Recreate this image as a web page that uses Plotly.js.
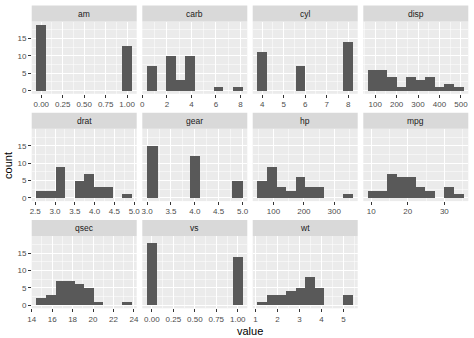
<!DOCTYPE html>
<html>
<head>
<meta charset="utf-8">
<script src="https://cdn.plot.ly/plotly-3.0.1.min.js"></script>
<style>html,body{margin:0;padding:0;background:#fff;}#chart{width:474px;height:338px;}</style>
</head>
<body>
<div id="chart"></div>
<script>
// Facet names (order of panels)
const facets = ['am','carb','cyl','disp','drat','gear','hp','mpg','qsec','vs','wt'];

// Histogram bin centres and counts
const am_mids = [0, 0.1111, 0.2222, 0.3333, 0.4444, 0.5556, 0.6667, 0.7778, 0.8889, 1.0];
const am_counts = [19, 0, 0, 0, 0, 0, 0, 0, 0, 13];
const carb_mids = [0.7778, 1.5556, 2.3333, 3.1111, 3.8889, 4.6667, 5.4444, 6.2222, 7.0, 7.7778];
const carb_counts = [7, 0, 10, 3, 10, 0, 0, 1, 0, 1];
const cyl_mids = [4.0, 4.4444, 4.8889, 5.3333, 5.7778, 6.2222, 6.6667, 7.1111, 7.5556, 8.0];
const cyl_counts = [11, 0, 0, 0, 7, 0, 0, 0, 0, 14];
const disp_mids = [89.09, 133.63, 178.18, 222.72, 267.27, 311.81, 356.36, 400.90, 445.44, 489.99];
const disp_counts = [6, 6, 4, 1, 4, 3, 4, 1, 2, 1];
const drat_mids = [2.6522, 2.8933, 3.1344, 3.3756, 3.6167, 3.8578, 4.0989, 4.3400, 4.5811, 4.8222];
const drat_counts = [2, 2, 9, 0, 5, 7, 3, 3, 0, 1];
const gear_mids = [3.1111, 3.3333, 3.5556, 3.7778, 4.0, 4.2222, 4.4444, 4.6667, 4.8889];
const gear_counts = [15, 0, 0, 0, 12, 0, 0, 0, 5];
const hp_mids = [62.89, 94.33, 125.78, 157.22, 188.67, 220.11, 251.56, 283.00, 314.44, 345.89];
const hp_counts = [5, 9, 3, 2, 6, 3, 3, 0, 0, 1];
const mpg_mids = [10.444, 13.056, 15.667, 18.278, 20.889, 23.500, 26.111, 28.722, 31.333, 33.944];
const mpg_counts = [2, 2, 7, 6, 6, 3, 2, 0, 3, 1];
const qsec_mids = [14.933, 15.867, 16.800, 17.733, 18.667, 19.600, 20.533, 21.467, 22.400, 23.333];
const qsec_counts = [2, 3, 7, 7, 6, 5, 1, 0, 0, 1];
const vs_mids = [0, 0.1111, 0.2222, 0.3333, 0.4444, 0.5556, 0.6667, 0.7778, 0.8889, 1.0];
const vs_counts = [18, 0, 0, 0, 0, 0, 0, 0, 0, 14];
const wt_mids = [1.3037, 1.7382, 2.1728, 2.6074, 3.0419, 3.4765, 3.9110, 4.3456, 4.7801, 5.2147];
const wt_counts = [1, 3, 3, 4, 5, 8, 5, 0, 0, 3];

// Tick values and labels
const am_ticks = [0, 0.25, 0.5, 0.75, 1];
const am_labels = ['0.00', '0.25', '0.50', '0.75', '1.00'];
const carb_ticks = [0, 2, 4, 6, 8];
const carb_labels = ['0', '2', '4', '6', '8'];
const cyl_ticks = [4, 5, 6, 7, 8];
const cyl_labels = ['4', '5', '6', '7', '8'];
const disp_ticks = [100, 200, 300, 400, 500];
const disp_labels = ['100', '200', '300', '400', '500'];
const drat_ticks = [2.5, 3, 3.5, 4, 4.5, 5];
const drat_labels = ['2.5', '3.0', '3.5', '4.0', '4.5', '5.0'];
const gear_ticks = [3, 3.5, 4, 4.5, 5];
const gear_labels = ['3.0', '3.5', '4.0', '4.5', '5.0'];
const hp_ticks = [100, 200, 300];
const hp_labels = ['100', '200', '300'];
const mpg_ticks = [10, 20, 30];
const mpg_labels = ['10', '20', '30'];
const qsec_ticks = [14, 16, 18, 20, 22, 24];
const qsec_labels = ['14', '16', '18', '20', '22', '24'];
const vs_ticks = [0, 0.25, 0.5, 0.75, 1];
const vs_labels = ['0.00', '0.25', '0.50', '0.75', '1.00'];
const wt_ticks = [1, 2, 3, 4, 5];
const wt_labels = ['1', '2', '3', '4', '5'];
const count_ticks = [0, 5, 10, 15];
const count_labels = ['0', '5', '10', '15'];

const series = {
  am: [am_mids, am_counts, am_ticks, am_labels],
  carb: [carb_mids, carb_counts, carb_ticks, carb_labels],
  cyl: [cyl_mids, cyl_counts, cyl_ticks, cyl_labels],
  disp: [disp_mids, disp_counts, disp_ticks, disp_labels],
  drat: [drat_mids, drat_counts, drat_ticks, drat_labels],
  gear: [gear_mids, gear_counts, gear_ticks, gear_labels],
  hp: [hp_mids, hp_counts, hp_ticks, hp_labels],
  mpg: [mpg_mids, mpg_counts, mpg_ticks, mpg_labels],
  qsec: [qsec_mids, qsec_counts, qsec_ticks, qsec_labels],
  vs: [vs_mids, vs_counts, vs_ticks, vs_labels],
  wt: [wt_mids, wt_counts, wt_ticks, wt_labels]
};

// Layout geometry (pixels)
const W = 474, H = 338;
const colLeft = [31.7, 142.3, 252.7, 363.3];
const panelW = 105.0;
const panelTop = [21.5, 128.8, 236.0];
const panelH = 72.3;
const stripH = 16;

const tickFont = {family: 'Liberation Sans, Arial, sans-serif', size: 8, color: '#4D4D4D'};
const yMax = Math.max(...facets.map(f => Math.max(...series[f][1])));
const yRange = [-0.05 * yMax, yMax * 1.05];

const traces = [];
const layout = {
  width: W, height: H,
  margin: {l: 0, r: 0, t: 0, b: 0},
  paper_bgcolor: '#FFFFFF',
  plot_bgcolor: '#EBEBEB',
  showlegend: false,
  bargap: 0,
  shapes: [],
  annotations: []
};

facets.forEach((f, i) => {
  const [mids, counts, ticks, labels] = series[f];
  const row = Math.floor(i / 4), col = i % 4;
  const sfx = i === 0 ? '' : String(i + 1);
  const w = mids[1] - mids[0];
  const lo = mids[0] - w / 2, hi = mids[mids.length - 1] + w / 2;
  const pad = 0.05 * (hi - lo);
  const x0 = colLeft[col] / W, x1 = (colLeft[col] + panelW) / W;
  const yb = 1 - (panelTop[row] + panelH) / H, yt = 1 - panelTop[row] / H;

  traces.push({
    type: 'bar', x: mids, y: counts, width: w,
    xaxis: 'x' + sfx, yaxis: 'y' + sfx,
    marker: {color: '#595959', line: {width: 0}},
    hoverinfo: 'skip'
  });

  layout['xaxis' + sfx] = {
    domain: [x0, x1], anchor: 'y' + sfx,
    range: [lo - pad, hi + pad],
    tickmode: 'array', tickvals: ticks, ticktext: labels,
    ticks: 'outside', ticklen: 2.7, tickwidth: 1, tickcolor: '#333333',
    tickfont: tickFont,
    showgrid: true, gridcolor: '#FFFFFF', gridwidth: 1,
    minor: {tickmode: 'linear', tick0: ticks[0], dtick: (ticks[1] - ticks[0]) / 2,
            showgrid: true, gridcolor: '#FFFFFF', gridwidth: 0.5, ticks: ''},
    zeroline: false, showline: false, fixedrange: true
  };
  layout['yaxis' + sfx] = {
    domain: [yb, yt], anchor: 'x' + sfx,
    range: yRange,
    tickmode: 'array', tickvals: count_ticks, ticktext: count_labels,
    ticks: col === 0 ? 'outside' : '', ticklen: 2.7, tickwidth: 1, tickcolor: '#333333',
    showticklabels: col === 0,
    tickfont: tickFont,
    showgrid: true, gridcolor: '#FFFFFF', gridwidth: 1,
    minor: {tickmode: 'linear', tick0: 0, dtick: 2.5,
            showgrid: true, gridcolor: '#FFFFFF', gridwidth: 0.5, ticks: ''},
    zeroline: false, showline: false, fixedrange: true
  };

  // strip
  layout.shapes.push({
    type: 'rect', xref: 'paper', yref: 'paper',
    x0: x0, x1: x1, y0: yt, y1: 1 - (panelTop[row] - stripH) / H,
    fillcolor: '#D9D9D9', line: {width: 0}
  });
  layout.annotations.push({
    xref: 'paper', yref: 'paper', x: (x0 + x1) / 2,
    y: 1 - (panelTop[row] - stripH / 2) / H,
    text: f, showarrow: false, xanchor: 'center', yanchor: 'middle',
    font: {family: 'Liberation Sans, Arial, sans-serif', size: 8.5, color: '#1A1A1A'}
  });
});

// axis titles
layout.annotations.push({
  xref: 'paper', yref: 'paper',
  x: (colLeft[0] + colLeft[3] + panelW) / 2 / W, y: 1 - 331 / H,
  text: 'value', showarrow: false, xanchor: 'center', yanchor: 'middle',
  font: {family: 'Liberation Sans, Arial, sans-serif', size: 11, color: '#000000'}
});
layout.annotations.push({
  xref: 'paper', yref: 'paper',
  x: 8 / W, y: 1 - (panelTop[0] + panelTop[2] + panelH) / 2 / H,
  text: 'count', showarrow: false, textangle: -90, xanchor: 'center', yanchor: 'middle',
  font: {family: 'Liberation Sans, Arial, sans-serif', size: 11, color: '#000000'}
});

Plotly.newPlot('chart', traces, layout, {displayModeBar: false, staticPlot: true});
</script>
</body>
</html>
